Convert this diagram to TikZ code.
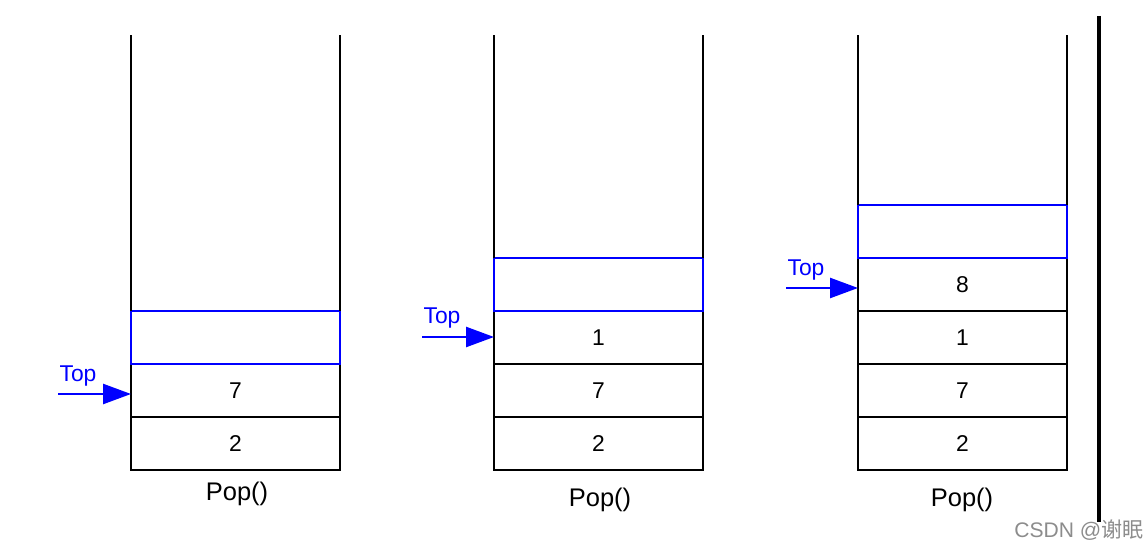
\documentclass[tikz,border=0pt]{standalone}
\usepackage{fontspec}
\setmainfont{Liberation Sans}
\newfontfamily\cjkfont{Noto Sans CJK SC}
\usetikzlibrary{arrows.meta}

\begin{document}
\begin{tikzpicture}[x=0.02cm, y=-0.02cm, line width=1.1pt]
\tikzstyle{cell} = [draw, minimum width=4.18cm, minimum height=1.06cm, inner sep=0pt, outer sep=0pt, font=\fontsize{13}{15}\selectfont]
\tikzstyle{slot} = [cell, draw=blue, line width=1.6pt]
\tikzstyle{toplabel} = [text=blue, font=\fontsize{13}{15}\selectfont, inner sep=0pt]
\tikzstyle{topptr} = [draw=blue, line width=1.4pt, -{Triangle[length=0.56cm, width=0.4cm]}]
\tikzstyle{oplabel} = [font=\fontsize{14.5}{16}\selectfont, inner sep=0pt]
\useasboundingbox (0, 0) rectangle (1147, 550);
% first stack
\node[cell] (A-2) at (235.5, 443.5) {2};
\node[cell] (A-7) at (235.5, 390.5) {7};
\node[slot] (A-e) at (235.5, 337.5) {};
\coordinate (A-l) at (131, 35);
\draw (A-e.north west) -- (A-e.north west |- A-l);
\draw (A-e.north east) -- (A-e.north east |- A-l);
\node[toplabel] (A-top) at (78, 376) {Top};
\coordinate (A-tail) at (58, 394);
\draw[topptr] (A-tail) -- (A-tail -| A-7.west);
\node[oplabel] (A-op) at (237, 494) {Pop()};
% second stack
\node[cell] (B-2) at (598.5, 443.5) {2};
\node[cell] (B-7) at (598.5, 390.5) {7};
\node[cell] (B-1) at (598.5, 337.5) {1};
\node[slot] (B-e) at (598.5, 284.5) {};
\coordinate (B-l) at (494, 35);
\draw (B-e.north west) -- (B-e.north west |- B-l);
\draw (B-e.north east) -- (B-e.north east |- B-l);
\node[toplabel] (B-top) at (442, 318) {Top};
\coordinate (B-tail) at (422, 337);
\draw[topptr] (B-tail) -- (B-tail -| B-1.west);
\node[oplabel] (B-op) at (600, 500) {Pop()};
% third stack
\node[cell] (C-2) at (962.5, 443.5) {2};
\node[cell] (C-7) at (962.5, 390.5) {7};
\node[cell] (C-1) at (962.5, 337.5) {1};
\node[cell] (C-8) at (962.5, 284.5) {8};
\node[slot] (C-e) at (962.5, 231.5) {};
\coordinate (C-l) at (858, 35);
\draw (C-e.north west) -- (C-e.north west |- C-l);
\draw (C-e.north east) -- (C-e.north east |- C-l);
\node[toplabel] (C-top) at (806, 270) {Top};
\coordinate (C-tail) at (786, 288);
\draw[topptr] (C-tail) -- (C-tail -| C-8.west);
\node[oplabel] (C-op) at (962, 500) {Pop()};
% right rule and mark
\coordinate (R-a) at (1099, 16);
\coordinate (R-b) at (1099, 522);
\draw[line width=1.8pt] (R-a) -- (R-b);
\node[text=black!45, font=\fontsize{12}{14}\selectfont, inner sep=0pt] (mark) at (1079, 530) {CSDN @{\cjkfont 谢眠}};
\end{tikzpicture}
\end{document}
